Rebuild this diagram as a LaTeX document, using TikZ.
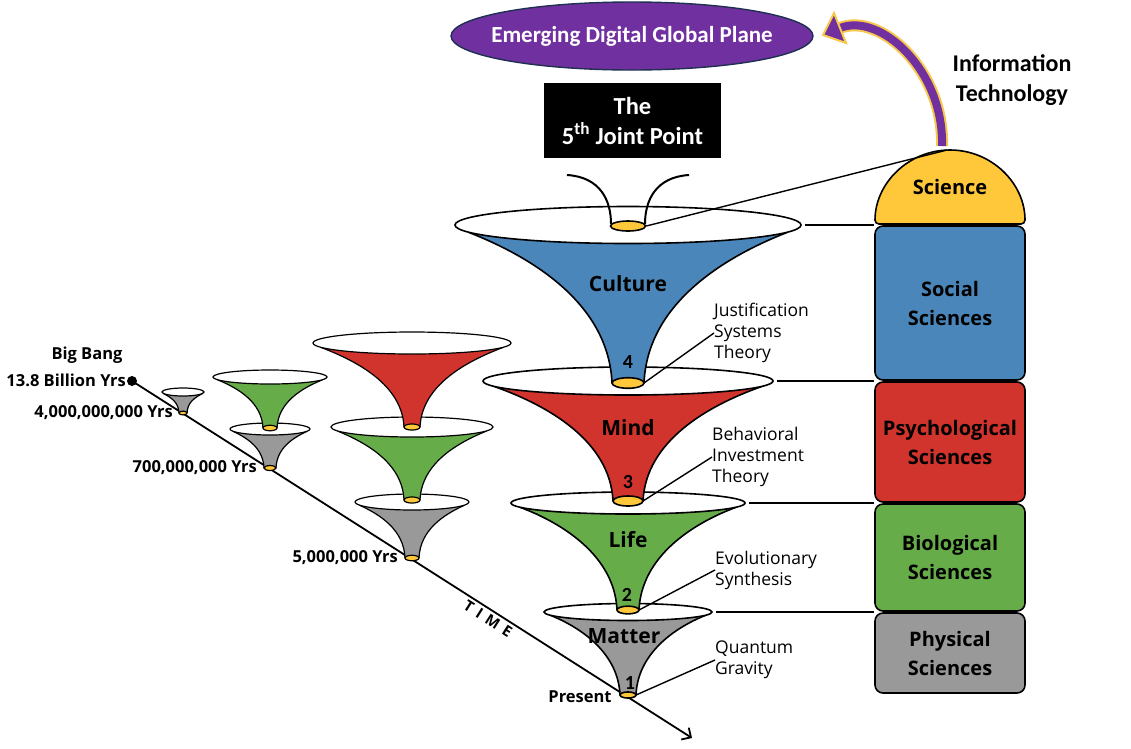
\documentclass[tikz,border=0pt]{standalone}
\usepackage{fontspec}
\setmainfont{Open Sans}
\newfontfamily\calfont{Carlito}
\usetikzlibrary{arrows.meta,shapes.geometric}
\definecolor{fblue}{HTML}{4A86BA}
\definecolor{fred}{HTML}{D0342C}
\definecolor{fgreen}{HTML}{66AD4A}
\definecolor{fgray}{HTML}{999999}
\definecolor{fyellow}{HTML}{FFC83A}
\definecolor{fpurple}{HTML}{7030A0}
\definecolor{fnavy}{HTML}{1F3050}
\definecolor{itgold}{HTML}{F8C84A}
% #1 name, #2 cx, #3 top y, #4 rx, #5 ry, #6 bottom y, #7 bottom half width, #8 colour, #9 line width
\newcommand\drawfunnel[9]{%
  \pgfmathsetmacro\fH{#6-#3}%
  \fill[#8] ({#2-0.92*#4},{#3+0.4*#5}) .. controls ({#2-0.55*#4},{#3+0.9*#5+0.1*\fH}) and ({#2-#7-0.02*#4},{#6-0.5*\fH}) .. ({#2-#7},#6)
     -- ({#2+#7},#6) .. controls ({#2+#7+0.02*#4},{#6-0.5*\fH}) and ({#2+0.55*#4},{#3+0.9*#5+0.1*\fH}) .. ({#2+0.92*#4},{#3+0.4*#5}) -- cycle;
  \draw[line width=#9] ({#2-0.92*#4},{#3+0.4*#5}) .. controls ({#2-0.55*#4},{#3+0.9*#5+0.1*\fH}) and ({#2-#7-0.02*#4},{#6-0.5*\fH}) .. ({#2-#7},#6);
  \draw[line width=#9] ({#2+0.92*#4},{#3+0.4*#5}) .. controls ({#2+0.55*#4},{#3+0.9*#5+0.1*\fH}) and ({#2+#7+0.02*#4},{#6-0.5*\fH}) .. ({#2+#7},#6);
  \draw[line width=#9, fill=white] (#2,#3) ellipse [x radius=#4, y radius=#5];
  \draw[line width=#9, fill=fyellow] (#2,#6) ellipse [x radius=#7, y radius={0.28*#7+0.8}];
  \coordinate (#1-rim) at ({#2+#4},#3);
  \coordinate (#1-bot) at ({#2+#7},#6);
}
\begin{document}
\begin{tikzpicture}[x=1pt,y=-1pt,
  conn/.style={line width=1.4pt},
  boxs/.style={draw, line width=1.6pt, rounded corners=8pt, minimum width=150pt, inner sep=0pt, align=center, font=\bfseries\fontsize{20}{29}\selectfont},
  callout/.style={align=left, anchor=west, inner sep=0pt, font=\fontsize{17.5}{21}\selectfont},
  tl/.style={inner sep=0pt, font=\bfseries\fontsize{16.5}{18}\selectfont},
  flabel/.style={inner sep=0pt, font=\bfseries\fontsize{21}{23}\selectfont},
  num/.style={inner sep=0pt, font=\calfont\bfseries\fontsize{20}{22}\selectfont}]
\useasboundingbox (0,0) rectangle (1131,748);

% timeline
\node[circle, fill=black, inner sep=0pt, minimum size=10pt] (bb) at (132,381) {};
\coordinate (tend) at (692,738);
\draw[line width=1.8pt, -{Straight Barb[length=7pt,width=14pt]}] (bb.center) -- (tend);

% past funnels
\drawfunnel{ga}{183}{392}{21}{4}{413}{4}{fgray}{1.2pt}
\drawfunnel{gb}{270}{429}{40}{6}{468}{6}{fgray}{1.2pt}
\drawfunnel{nb}{270}{377}{57}{7}{428}{7}{fgreen}{1.2pt}
\drawfunnel{gc}{412}{502}{57}{8}{558}{7}{fgray}{1.2pt}
\drawfunnel{nc}{412}{427}{81}{10}{500}{8}{fgreen}{1.2pt}
\drawfunnel{rc}{412}{343}{99}{11}{427}{8}{fred}{1.2pt}

% main funnels
\drawfunnel{mat}{628}{612}{84}{8.5}{695}{8}{fgray}{1.6pt}
\drawfunnel{lif}{628}{503}{117}{11}{610}{11}{fgreen}{1.6pt}
\drawfunnel{min}{628}{381}{145}{14}{501}{15}{fred}{1.6pt}
\drawfunnel{cul}{628}{225}{173}{18.5}{383}{16}{fblue}{1.6pt}

% fifth joint
\draw[line width=2pt] (567,175) .. controls (600,177) and (611,200) .. (611,224);
\draw[line width=2pt] (689,175) .. controls (656,177) and (645,200) .. (645,224);
\node[ellipse, draw, line width=1.6pt, fill=fyellow, minimum width=35pt, minimum height=10pt, inner sep=0pt] (tj) at (628,226) {};

% boxes
\draw[line width=1.6pt, fill=fyellow, rounded corners=4pt] (875,224) arc[start angle=180, end angle=360, x radius=75, y radius=74] -- cycle;
\node[inner sep=0pt, font=\bfseries\fontsize{20}{29}\selectfont] (sci) at (950,187) {Science};
\coordinate (scitop) at (947,150);
\node[boxs, fill=fblue, minimum height=154pt] (soc) at (950,303) {Social\\Sciences};
\node[boxs, fill=fred, minimum height=120pt] (psy) at (950,442) {Psychological\\Sciences};
\node[boxs, fill=fgreen, minimum height=107pt] (bio) at (950,557.5) {Biological\\Sciences};
\node[boxs, fill=fgray, minimum height=80pt] (phy) at (950,653) {Physical\\Sciences};

% connectors to boxes
\draw[conn] (cul-rim) ++(4,0) -- (cul-rim -| soc.west);
\draw[conn] (min-rim) ++(4,0) -- (min-rim -| soc.west);
\draw[conn] (lif-rim) ++(4,0) -- (lif-rim -| soc.west);
\draw[conn] (mat-rim) ++(4,0) -- (mat-rim -| soc.west);
\draw[conn] (tj.east) -- (scitop);

% callouts
\node[callout] (jst) at (714,333) {Justification\\Systems\\Theory};
\node[callout] (bit) at (712,457) {Behavioral\\Investment\\Theory};
\node[callout] (evo) at (715,570) {Evolutionary\\Synthesis};
\node[callout] (qg) at (715,660) {Quantum\\Gravity};
\draw[conn] (cul-bot) -- (jst.west);
\draw[conn] (min-bot) -- (bit.west);
\draw[conn] (lif-bot) -- (evo.west);
\draw[conn] (mat-bot) -- (qg.west);

% funnel labels
\node[flabel] (lcul) at (628,284) {Culture};
\node[flabel] (lmin) at (628,428) {Mind};
\node[flabel] (llif) at (628,540) {Life};
\node[flabel] (lmat) at (624,636) {Matter};
\node[num] (n4) at (628,362) {4};
\node[num] (n3) at (628,482) {3};
\node[num] (n2) at (627,595) {2};
\node[num] (n1) at (630,683) {1};

% timeline labels
\node[tl] (lbb) at (87,355) {Big Bang};
\node[tl, anchor=east] (l138) at (126,380) {13.8 Billion Yrs};
\node[tl, anchor=east] (l4b) at (173,413) {4,000,000,000 Yrs};
\node[tl, anchor=east] (l700) at (257,468) {700,000,000 Yrs};
\node[tl, anchor=east] (l5m) at (398,558) {5,000,000 Yrs};
\node[tl] (lpr) at (580,697) {Present};
\node[inner sep=0pt, rotate=-32.5, font=\bfseries\fontsize{15}{16}\selectfont\addfontfeature{LetterSpace=40}] (time) at (488,619) {TIME};

% top
\node[ellipse, draw=fnavy, line width=1.4pt, fill=fpurple, minimum width=362pt, minimum height=68pt, inner sep=0pt] (edgp) at (632,36) {};
\node[inner sep=0pt, text=white, font=\calfont\bfseries\fontsize{23}{25}\selectfont] (edgpt) at (edgp.center) {Emerging Digital Global Plane};
\node[fill=black, text=white, minimum width=177pt, minimum height=75pt, inner sep=0pt, align=center, font=\calfont\bfseries\fontsize{24.5}{30}\selectfont] (jp) at (632.5,120.5) {The\\5\textsuperscript{th} Joint Point};

% information technology arrow
\coordinate (itstart) at (942,146);
\coordinate (itend) at (840,28);
\coordinate (ittip) at (823,35);
\coordinate (itb1) at (846,43);
\coordinate (itb2) at (834,13);
\draw[line width=12pt, itgold] (itstart) .. controls (944,70) and (880,12) .. (itend);
\draw[line width=8pt, fpurple] (itstart) .. controls (944,70) and (880,12) .. (itend);
\draw[line width=2pt, draw=itgold, fill=fpurple, line join=miter] (ittip) -- (itb1) -- (itb2) -- cycle;
\node[inner sep=0pt, align=center, font=\calfont\bfseries\fontsize{24}{30}\selectfont] (it) at (1012,80) {Information\\Technology};
\end{tikzpicture}
\end{document}
